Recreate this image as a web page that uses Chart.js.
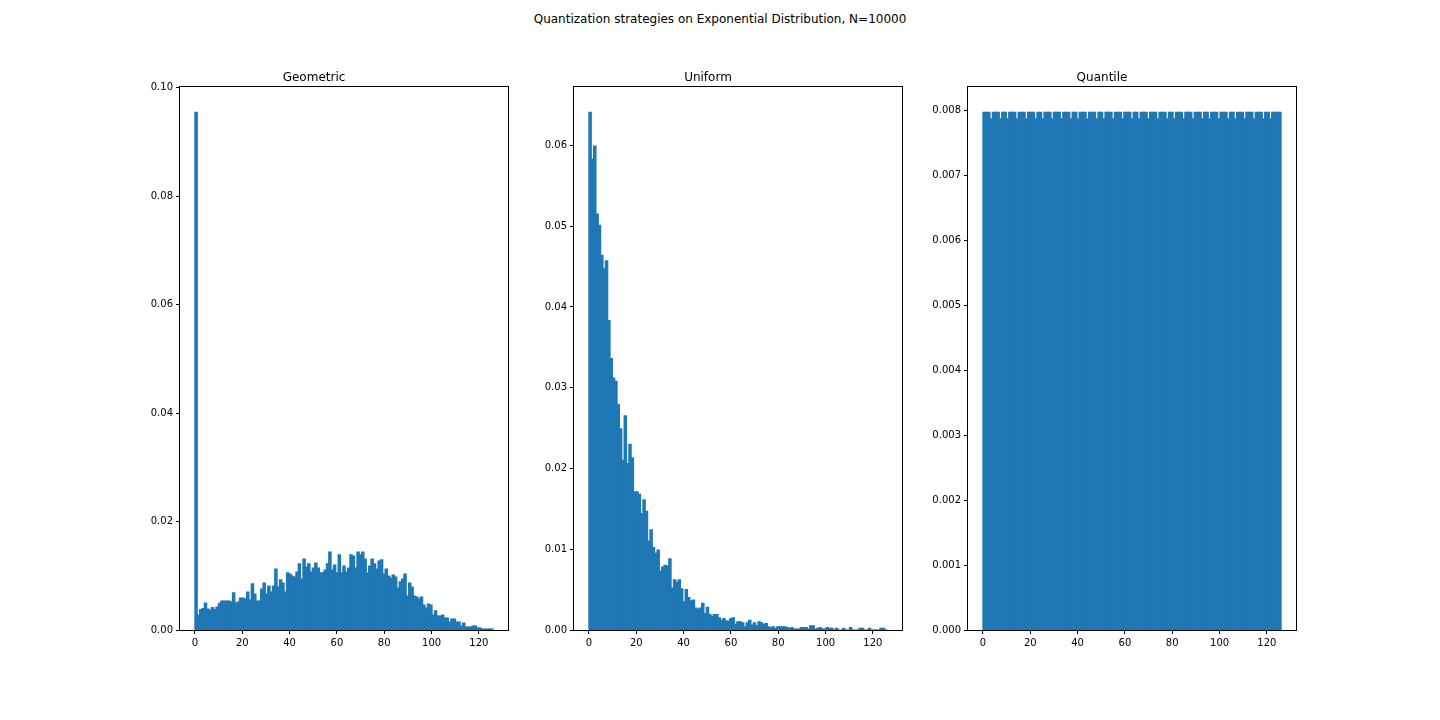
<!DOCTYPE html>
<html>
<head>
<meta charset="utf-8">
<title>Quantization strategies on Exponential Distribution</title>
<script src="https://cdn.jsdelivr.net/npm/chart.js@4.4.0/dist/chart.umd.min.js"></script>
<style>
  body { margin: 0; width: 1440px; height: 720px; background: #fff; position: relative; overflow: hidden; font-family: "DejaVu Sans", sans-serif; }
  #suptitle { position: absolute; left: 0; top: 12px; width: 1440px; text-align: center; font-size: 12px; line-height: 14px; color: #000; }
  .panel { position: absolute; top: 68px; width: 398px; height: 592px; }
</style>
</head>
<body>
<div id="suptitle">Quantization strategies on Exponential Distribution, N=10000</div>
<div class="panel" style="left:120px"><canvas id="geoChart"></canvas></div>
<div class="panel" style="left:514px"><canvas id="uniChart"></canvas></div>
<div class="panel" style="left:908px"><canvas id="quantChart"></canvas></div>
<script>
// histogram bins: 127 bins spanning 0..126
const nBins = 127;
const binStart = 0;
const binEnd = 126;

const xTicks = [0, 20, 40, 60, 80, 100, 120];
const geoTicks = [0, 0.02, 0.04, 0.06, 0.08, 0.10];
const uniTicks = [0, 0.01, 0.02, 0.03, 0.04, 0.05, 0.06];
const quantTicks = [0, 0.001, 0.002, 0.003, 0.004, 0.005, 0.006, 0.007, 0.008];

const geometric = [
  0.0955, 0.00277, 0.00375, 0.00394, 0.00498, 0.00387, 0.00369, 0.00412, 0.00375, 0.00424,
  0.00492, 0.00535, 0.00535, 0.00535, 0.00535, 0.00517, 0.00683, 0.00498, 0.00517, 0.00590,
  0.00590, 0.00572, 0.00701, 0.00554, 0.00849, 0.00664, 0.00535, 0.00535, 0.00756, 0.00867,
  0.00664, 0.00812, 0.00701, 0.00812, 0.01125, 0.00793, 0.00923, 0.00867, 0.00701, 0.01052,
  0.01033, 0.00996, 0.00978, 0.01070, 0.01218, 0.00941, 0.01310, 0.01162, 0.01218, 0.01070,
  0.01144, 0.01236, 0.01144, 0.01052, 0.01052, 0.01107, 0.01218, 0.01439, 0.01107, 0.01199,
  0.01052, 0.01384, 0.01052, 0.01181, 0.01070, 0.01144, 0.01384, 0.01365, 0.01144, 0.01439,
  0.01384, 0.01439, 0.01310, 0.01052, 0.01181, 0.01310, 0.01218, 0.01125, 0.01273, 0.01292,
  0.01033, 0.01125, 0.00996, 0.00959, 0.01015, 0.00978, 0.00775, 0.00886, 0.00941, 0.01033,
  0.00627, 0.00867, 0.00793, 0.00627, 0.00609, 0.00572, 0.00609, 0.00461, 0.00406, 0.00480,
  0.00461, 0.00277, 0.00351, 0.00258, 0.00258, 0.00277, 0.00221, 0.00221, 0.00148, 0.00203,
  0.00203, 0.00148, 0.00148, 0.00074, 0.00129, 0.00055, 0.00055, 0.00055, 0.00074, 0.00074,
  0.00037, 0.00037, 0.00018, 0.00018, 0.00018, 0.00018, 0.00018
];

const uniform = [
  0.0641, 0.0583, 0.0599, 0.0515, 0.0501, 0.0464, 0.0447, 0.0457, 0.0383, 0.0336,
  0.0312, 0.0308, 0.0279, 0.0249, 0.0210, 0.0265, 0.0206, 0.0230, 0.0213, 0.0171,
  0.0171, 0.0168, 0.0144, 0.0161, 0.0147, 0.0110, 0.0124, 0.0102, 0.0095, 0.0099,
  0.0073, 0.0078, 0.0080, 0.0079, 0.0088, 0.0052, 0.0062, 0.0059, 0.0062, 0.0051,
  0.0035, 0.0050, 0.0040, 0.0036, 0.0037, 0.0027, 0.0026, 0.0027, 0.0033, 0.0020,
  0.0028, 0.0019, 0.0017, 0.0019, 0.0019, 0.0015, 0.0012, 0.0014, 0.0011, 0.0011,
  0.0014, 0.0015, 0.0007, 0.0010, 0.0010, 0.0009, 0.0004, 0.0009, 0.0012, 0.0006,
  0.0009, 0.0005, 0.0010, 0.0009, 0.0007, 0.0008, 0.0004, 0.0003, 0.0004, 0.0002,
  0.0004, 0.0004, 0.0004, 0.0004, 0.0003, 0.0002, 0.0003, 0.0001, 0.0001, 0.0001,
  0.0003, 0.0003, 0.0003, 0.0001, 0.0005, 0.0005, 0.0001, 0.0002, 0.0003, 0.0001,
  0.0001, 0.0003, 0.0002, 0.0002, 0, 0.0002, 0, 0, 0.0002, 0,
  0, 0.0003, 0, 0, 0, 0.0002, 0.0002, 0, 0, 0.0002,
  0, 0, 0, 0, 0.0002, 0.0002, 0
];

const quantile = [
  0.00797, 0.00797, 0.00797, 0.00787, 0.00797, 0.00797, 0.00797, 0.00787, 0.00797, 0.00797,
  0.00787, 0.00797, 0.00797, 0.00797, 0.00787, 0.00797, 0.00797, 0.00797, 0.00787, 0.00797,
  0.00797, 0.00797, 0.00787, 0.00797, 0.00797, 0.00787, 0.00797, 0.00797, 0.00797, 0.00787,
  0.00797, 0.00797, 0.00797, 0.00787, 0.00797, 0.00797, 0.00797, 0.00787, 0.00797, 0.00797,
  0.00787, 0.00797, 0.00797, 0.00797, 0.00787, 0.00797, 0.00797, 0.00797, 0.00787, 0.00797,
  0.00797, 0.00787, 0.00797, 0.00797, 0.00797, 0.00787, 0.00797, 0.00797, 0.00797, 0.00787,
  0.00797, 0.00797, 0.00797, 0.00787, 0.00797, 0.00797, 0.00787, 0.00797, 0.00797, 0.00797,
  0.00787, 0.00797, 0.00797, 0.00797, 0.00787, 0.00797, 0.00797, 0.00797, 0.00787, 0.00797,
  0.00797, 0.00787, 0.00797, 0.00797, 0.00797, 0.00787, 0.00797, 0.00797, 0.00797, 0.00787,
  0.00797, 0.00797, 0.00797, 0.00787, 0.00797, 0.00797, 0.00787, 0.00797, 0.00797, 0.00797,
  0.00787, 0.00797, 0.00797, 0.00797, 0.00787, 0.00797, 0.00797, 0.00787, 0.00797, 0.00797,
  0.00797, 0.00787, 0.00797, 0.00797, 0.00797, 0.00787, 0.00797, 0.00797, 0.00797, 0.00787,
  0.00797, 0.00797, 0.00787, 0.00797, 0.00797, 0.00797, 0.00797
];

Chart.defaults.font.family = "'DejaVu Sans', sans-serif";
Chart.defaults.color = "#000";

function binCenters() {
  let w = (binEnd - binStart) / nBins;
  let out = [];
  for (let i = 0; i < nBins; i++) out.push(binStart + (i + 0.5) * w);
  return out;
}

// black box round the plot area, like matplotlib spines
const frame = {
  id: "frame",
  afterDraw(chart) {
    const { ctx, chartArea: a } = chart;
    let l = Math.round(a.left) - 0.5;
    let t = Math.round(a.top) + 0.5;
    let r = Math.round(a.right) + 0.5;
    let b = Math.round(a.bottom) + 0.5;
    ctx.save();
    ctx.strokeStyle = "#000";
    ctx.lineWidth = 1;
    ctx.strokeRect(l, t, r - l, b - t);
    ctx.restore();
  }
};

function tickGrid() {
  return { display: true, drawOnChartArea: false, drawTicks: true, tickLength: 4, tickWidth: 1, tickColor: "#000", offset: false };
}

function makeHist(id, title, values, yTicks, digits) {
  let centers = binCenters();
  let span = binEnd - binStart;
  let ymax = Math.max(...values) * 1.05;

  return new Chart(document.getElementById(id), {
    type: "bar",
    data: {
      datasets: [{
        data: values.map((v, i) => ({ x: centers[i], y: v })),
        backgroundColor: "#1f77b4",
        borderWidth: 0,
        barPercentage: 1,
        categoryPercentage: 1,
        inflateAmount: 0.6
      }]
    },
    options: {
      responsive: true,
      maintainAspectRatio: false,
      animation: false,
      layout: { padding: { left: 0, right: 10, top: 0, bottom: 0 } },
      plugins: {
        legend: { display: false },
        tooltip: { enabled: false },
        title: {
          display: true,
          text: title,
          color: "#000",
          font: { size: 12, weight: "normal" },
          padding: { top: 3, bottom: 1 }
        }
      },
      scales: {
        x: {
          type: "linear",
          offset: false,
          min: binStart - span * 0.05,
          max: binEnd + span * 0.05,
          afterBuildTicks: s => { s.ticks = xTicks.map(v => ({ value: v })); },
          afterFit: s => { s.height = 30; },
          grid: tickGrid(),
          border: { display: false },
          ticks: { autoSkip: false, maxRotation: 0, padding: 3, font: { size: 10 }, callback: v => String(v) }
        },
        y: {
          min: 0,
          max: ymax,
          afterBuildTicks: s => { s.ticks = yTicks.map(v => ({ value: v })); },
          afterFit: s => { s.width = 60; },
          grid: tickGrid(),
          border: { display: false },
          ticks: { autoSkip: false, padding: 3, font: { size: 10 }, callback: v => v.toFixed(digits) }
        }
      }
    },
    plugins: [frame]
  });
}

makeHist("geoChart", "Geometric", geometric, geoTicks, 2);
makeHist("uniChart", "Uniform", uniform, uniTicks, 2);
makeHist("quantChart", "Quantile", quantile, quantTicks, 3);
</script>
</body>
</html>
